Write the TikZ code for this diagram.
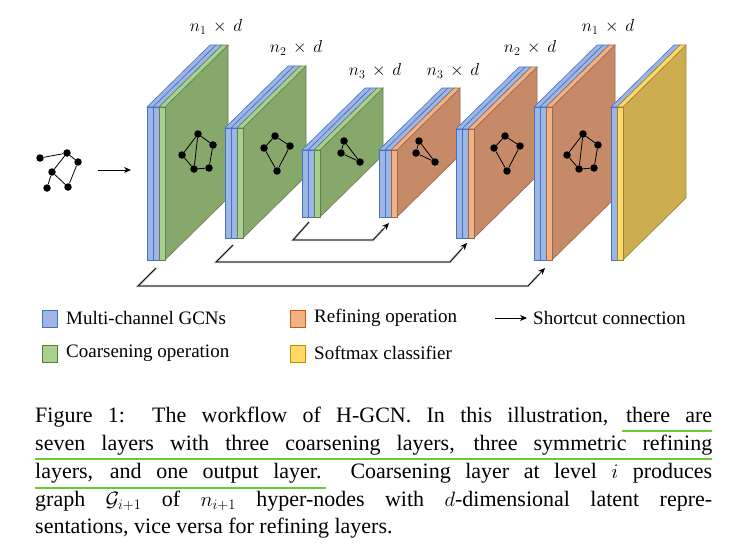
\documentclass[tikz,border=0pt]{standalone}
\usepackage{fontspec}
\setmainfont{Liberation Serif}
\usetikzlibrary{arrows.meta,calc}
\definecolor{bluef}{HTML}{9DB6E4}
\definecolor{blued}{HTML}{4472C4}
\definecolor{greens}{HTML}{A9D18E}
\definecolor{greenf}{HTML}{87A86B}
\definecolor{greend}{HTML}{548235}
\definecolor{orans}{HTML}{F4B183}
\definecolor{oranf}{HTML}{C78A69}
\definecolor{orand}{HTML}{C55A11}
\definecolor{yels}{HTML}{FFD966}
\definecolor{yelf}{HTML}{CCAE50}
\definecolor{yeld}{HTML}{BF9000}
\definecolor{ulg}{HTML}{66CC33}
\newcommand\myplate[5]{% x, ytop, ybot, fill, draw
  \draw[fill=#4,draw=#5,line width=0.6pt] (#1,#2)--(#1+63,#2-62)--(#1+69,#2-62)--(#1+6,#2)--cycle;
  \draw[fill=#4,draw=#5,line width=0.6pt] (#1,#2) rectangle (#1+6,#3);}
\newcommand\myside[5]{%
  \draw[fill=#4,draw=#5,line width=0.6pt] (#1+6,#2)--(#1+69,#2-62)--(#1+69,#3-62)--(#1+6,#3)--cycle;}
\newcommand\mylayer[6]{% x ytop ybot nblue strip side draw
  \foreach \k in {1,...,#4}{\myplate{#1+6*\k-6}{#2}{#3}{bluef}{blued}}
  \myside{#1+6*#4}{#2}{#3}{#6}{#5!60!black}
  \myplate{#1+6*#4}{#2}{#3}{#5}{#5!60!black}}
\tikzset{gn/.style={circle,fill=black,inner sep=0pt,minimum size=7.5pt},
  ge/.style={line width=0.8pt},
  lab/.style={font=\fontsize{17}{20}\selectfont,inner sep=0pt},
  leg/.style={font=\fontsize{19}{22}\selectfont,anchor=west,inner sep=0pt},
  sc/.style={line width=0.7pt,draw=black,-{Stealth[length=7pt,width=6pt]}},
  scb/.style={line width=2.2pt,draw=gray!55},
  captxt/.style={font=\fontsize{22}{27}\selectfont,anchor=base west,inner sep=0pt},
  ul/.style={draw=ulg,line width=1.6pt}}
\begin{document}
\begin{tikzpicture}[x=1pt,y=-1pt]
\useasboundingbox (0,0) rectangle (738,549);
% layers
\mylayer{147}{107}{260}{2}{greens}{greenf}
\mylayer{225}{128}{238}{2}{greens}{greenf}
\mylayer{302}{150}{217}{2}{greens}{greenf}
\mylayer{379}{150}{217}{2}{orans}{oranf}
\mylayer{456}{129}{238}{2}{orans}{oranf}
\mylayer{534}{107}{260}{2}{orans}{oranf}
\mylayer{611}{107}{260}{1}{yels}{yelf}
% labels
\node[lab] (l1) at (216,27) {$n_1\,\times\,d$};
\node[lab] (l2) at (296,48) {$n_2\,\times\,d$};
\node[lab] (l3) at (375,71) {$n_3\,\times\,d$};
\node[lab] (l4) at (453,71) {$n_3\,\times\,d$};
\node[lab] (l5) at (530,48) {$n_2\,\times\,d$};
\node[lab] (l6) at (608,27) {$n_1\,\times\,d$};
% input graph
\node[gn] (i1) at (40,158) {}; \node[gn] (i2) at (67,153) {};
\node[gn] (i3) at (78,162) {}; \node[gn] (i4) at (52,172) {};
\node[gn] (i5) at (47,188) {}; \node[gn] (i6) at (68,187) {};
\draw[ge] (i1)--(i2)--(i4)--(i5) (i2)--(i3)--(i6)--(i4);
\coordinate (ia) at (98,170); \coordinate (ib) at (131,170);
\draw[line width=1pt,-{Stealth[length=7pt,width=6pt]}] (ia)--(ib);
% graph 5 nodes
\foreach \n/\ox in {a/0,b/385}{
  \node[gn] (\n1) at (198+\ox,134) {}; \node[gn] (\n2) at (213+\ox,145) {};
  \node[gn] (\n3) at (182+\ox,155) {}; \node[gn] (\n4) at (194+\ox,169) {};
  \node[gn] (\n5) at (209+\ox,168) {};
  \draw[ge] (\n1)--(\n2)--(\n5)--(\n4)--(\n3)--(\n1)--(\n4);}
\foreach \n/\ox in {c/0,d/230}{
  \node[gn] (\n1) at (275+\ox,136) {}; \node[gn] (\n2) at (290+\ox,146) {};
  \node[gn] (\n3) at (264+\ox,148) {}; \node[gn] (\n4) at (277+\ox,171) {};
  \draw[ge] (\n1)--(\n2)--(\n4)--(\n3)--(\n1);}
\foreach \n/\ox in {e/0,f/75}{
  \node[gn] (\n1) at (344+\ox,141) {}; \node[gn] (\n2) at (341+\ox,153) {};
  \node[gn] (\n3) at (360+\ox,162) {};
  \draw[ge] (\n1)--(\n3)--(\n2)--(\n1);}
% shortcuts
\coordinate (s1a) at (309,222); \coordinate (s1b) at (293,240); \coordinate (s1c) at (373,240); \coordinate (s1d) at (389,223);
\coordinate (s2a) at (233,245); \coordinate (s2b) at (216,262); \coordinate (s2c) at (450,262); \coordinate (s2d) at (467,243);
\coordinate (s3a) at (156,268); \coordinate (s3b) at (138,286); \coordinate (s3c) at (528,286); \coordinate (s3d) at (545,268);
\foreach \s in {s1,s2,s3}{
  \draw[scb] (\s a)--(\s b)--(\s c)--($(\s d)!0.35!(\s c)$);
  \draw[sc] (\s a)--(\s b)--(\s c)--(\s d);}
% legend
\draw[fill=bluef,draw=blued] (42,310) rectangle (57,327); \node[leg] (t1) at (66,318) {Multi-channel GCNs};
\draw[fill=greens,draw=greend] (42,345) rectangle (57,362); \node[leg] (t2) at (66,353) {Coarsening operation};
\draw[fill=orans,draw=orand] (290,310) rectangle (305,327); \node[leg] (t3) at (314,318) {Refining operation};
\draw[fill=yels,draw=yeld] (290,345) rectangle (305,362); \node[leg] (t4) at (314,353) {Softmax classifier};
\coordinate (la) at (495,318); \coordinate (lb) at (527,318);
\draw[line width=1pt,-{Stealth[length=7pt,width=6pt]}] (la)--(lb);
\node[leg] (t5) at (533,318) {Shortcut connection};
% caption
\node[captxt] (c1) at (35,422) {\makebox[677pt][s]{Figure 1: The workflow of H-GCN. In this illustration, there are}};
\node[captxt] (c2) at (35,450) {\makebox[677pt][s]{seven layers with three coarsening layers, three symmetric refining}};
\node[captxt] (c3) at (35,478) {\makebox[677pt][s]{layers, and one output layer.\ \ Coarsening layer at level $i$ produces}};
\node[captxt] (c4) at (35,506) {\makebox[677pt][s]{graph $\mathcal{G}_{i+1}$ of $n_{i+1}$ hyper-nodes with $d$-dimensional latent repre-}};
\node[captxt] (c5) at (35,533) {sentations, vice versa for refining layers.};
\draw[ul] (622,431)--(712,431);
\draw[ul] (35,459)--(712,459);
\draw[ul] (35,488)--(326,488);
\end{tikzpicture}
\end{document}
